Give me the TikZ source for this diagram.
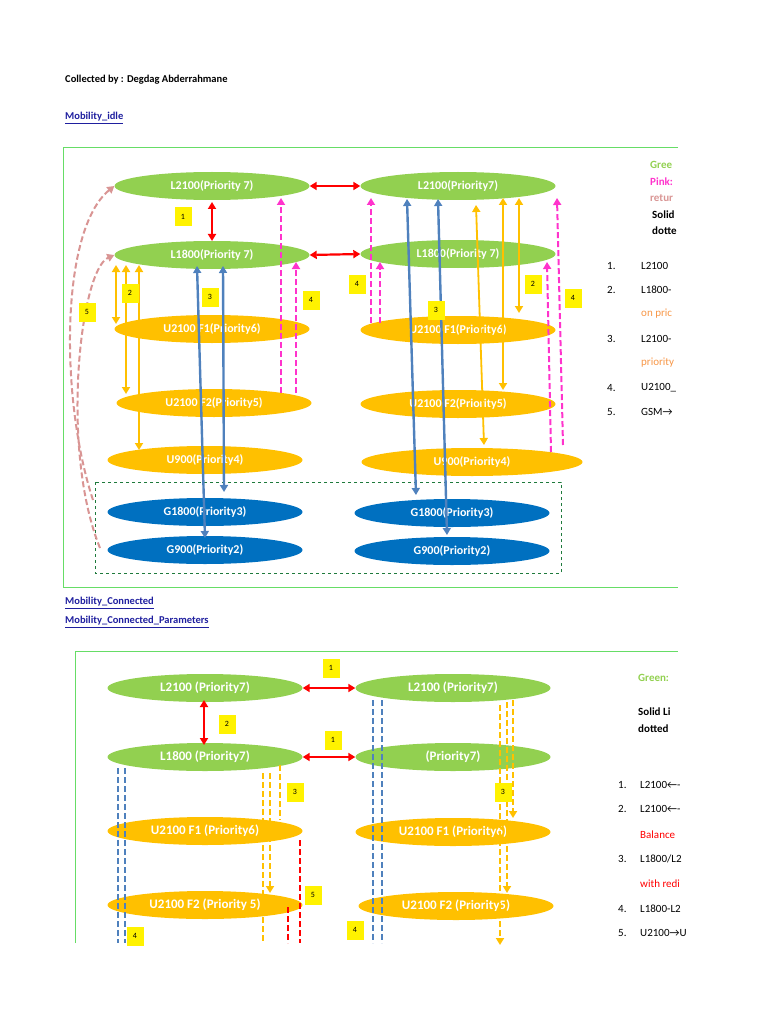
\documentclass[tikz,border=0pt]{standalone}
\usepackage{fontspec}
\setmainfont{Carlito}
\usetikzlibrary{arrows.meta,shapes.geometric}
\definecolor{eg}{HTML}{92D050}
\definecolor{eo}{HTML}{FFC000}
\definecolor{eb}{HTML}{0070C0}
\definecolor{ab}{HTML}{4F81BD}
\definecolor{pk}{HTML}{FF33CC}
\definecolor{br}{HTML}{D99594}
\definecolor{lnk}{HTML}{1F1F9F}
\definecolor{fr}{HTML}{66DD66}
\definecolor{dg}{HTML}{1E7A3C}
\definecolor{or2}{HTML}{F79646}
\tikzset{
 ell/.style={ellipse,minimum width=195pt,minimum height=28pt,inner sep=0pt,text=white,font=\bfseries\fontsize{12}{12}\selectfont},
 gE/.style={ell,fill=eg}, oE/.style={ell,fill=eo}, bE/.style={ell,fill=eb},
 tag/.style={fill=yellow,minimum width=17pt,minimum height=19pt,inner sep=0pt,font=\fontsize{8}{8}\selectfont},
 redar/.style={red,line width=2.2pt,{Triangle[length=7pt,width=8pt]}-{Triangle[length=7pt,width=8pt]}},
 orar/.style={eo,line width=1.8pt},
 blar/.style={ab,line width=2.4pt},
 pkar/.style={pk,line width=2pt,dashed,dash pattern=on 6pt off 3pt,-{Triangle[length=7pt,width=8pt]}},
 dsh/.style={line width=2pt,dash pattern=on 6pt off 3pt},
 tip/.style={-{Triangle[length=7pt,width=8pt]}},
 tips/.style={{Triangle[length=7pt,width=8pt]}-{Triangle[length=7pt,width=8pt]}},
 lbl/.style={anchor=west,inner sep=0pt,font=\fontsize{11}{11}\selectfont},
 lnkt/.style={anchor=west,inner sep=0pt,text=lnk,font=\bfseries\fontsize{10.5}{10.5}\selectfont},
}
\begin{document}
\begin{tikzpicture}[x=1pt,y=-1pt]
\useasboundingbox (0,0) rectangle (768,1024);
\node[anchor=west,inner sep=0pt,font=\bfseries\fontsize{10.5}{10.5}\selectfont] (hdr) at (65,80) {Collected by : Degdag Abderrahmane};
\node[lnkt] (mi) at (65,118) {\underline{Mobility\_idle}};
% frame
\draw[fr,line width=1pt] (678,148) -- (63,148) -- (63,587) -- (678,587);
\draw[dg,line width=1pt,dashed] (95,482) rectangle (561,573);
% left column
\node[gE] (aL21) at (212,186) {L2100(Priority 7)};
\node[gE] (aL18) at (212,255) {L1800(Priority 7)};
\node[oE] (aF1) at (212,329) {U2100 F1(Priority6)};
\node[oE] (aF2) at (214,403) {U2100 F2(Priority5)};
\node[oE] (aU9) at (205,460) {U900(Priority4)};
\node[bE] (aG18) at (205,512) {G1800(Priority3)};
\node[bE] (aG9) at (205,550) {G900(Priority2)};
% right column
\node[gE] (bL21) at (458,186) {L2100(Priority7)};
\node[gE] (bL18) at (458,254) {L1800(Priority 7)};
\node[oE] (bF1) at (458,330) {U2100 F1(Priority6)};
\node[oE] (bF2) at (458,404) {U2100 F2(Priority5)};
\node[oE,minimum width=221pt] (bU9) at (472,462) {U900(Priority4)};
\node[bE] (bG18) at (452,513) {G1800(Priority3)};
\node[bE] (bG9) at (452,551) {G900(Priority2)};
% red arrows
\draw[redar] (aL21.east) -- (bL21.west);
\draw[redar] (aL18.east) -- (bL18.west);
\draw[redar] (212,202) -- (212,241);
\node[tag] (t1) at (183,217) {1};
% left orange
\draw[orar,tips] (116,265) -- (116,324);
\draw[orar,tips] (126,265) -- (126,394);
\draw[orar,tips] (139,265) -- (139,450);
\node[tag] (t2) at (130,293) {2};
% left blue
\draw[blar,tips] (197,266) -- (205,538);
\draw[blar,tips] (223,266) -- (224,492);
\node[tag] (t3) at (210,297) {3};
% left pink
\draw[pkar] (281,393) -- (281,198);
\draw[pkar] (296,393) -- (296,262);
\node[tag] (t4) at (311,300) {4};
% brown curves
\draw[br,dsh,tip] (93,500) .. controls (60,400) and (60,230) .. (aL21.west);
\draw[br,dsh,tip] (100,548) .. controls (60,450) and (80,270) .. (aL18.west);
\node[tag] (t5) at (87,312) {5};
% right pink
\draw[pkar] (371,323) -- (371,198);
\draw[pkar] (380,323) -- (380,262);
\node[tag] (t4b) at (357,284) {4};
% right blue
\draw[blar,tips] (407,199) -- (416,495);
\draw[blar,tips] (438,199) -- (447,535);
\node[tag] (t3b) at (436,310) {3};
% right orange
\draw[orar,tips] (476,205) -- (484,445);
\draw[orar,tips] (503,198) -- (503,390);
\draw[orar,tips] (519,198) -- (519,313);
\node[tag] (t2b) at (533,284) {2};
\draw[pkar] (551,452) -- (547,262);
\draw[pkar] (563,445) -- (557,198);
\node[tag] (t4c) at (573,298) {4};
% legend top
\node[lbl,text=eg,font=\bfseries\fontsize{11}{11}\selectfont] (lg1) at (650,165) {Gree};
\node[lbl,text=pk,font=\bfseries\fontsize{11}{11}\selectfont] (lg2) at (650,182) {Pink:};
\node[lbl,text=br,font=\bfseries\fontsize{11}{11}\selectfont] (lg3) at (650,198) {retur};
\node[lbl,font=\bfseries\fontsize{11}{11}\selectfont] (lg4) at (652,215) {Solid};
\node[lbl,font=\bfseries\fontsize{11}{11}\selectfont] (lg5) at (652,231) {dotte};
\foreach \n/\y/\t in {1/266/L2100, 2/290/L1800-, 3/339/L2100-, 4/388/U2100\_, 5/412/GSM→}{
 \node[lbl] at (607,\y) {\n.};
 \node[lbl] at (641,\y) {\t};
}
\node[lbl,text=or2] (op) at (641,314) {on pric};
\node[lbl,text=or2] (pr) at (641,363) {priority};
% ===== bottom =====
\node[lnkt] (mc) at (65,603) {\underline{Mobility\_Connected}};
\node[lnkt] (mcp) at (65,622) {\underline{Mobility\_Connected\_Parameters}};
\draw[fr,line width=1pt] (75,943) -- (75,651) -- (678,651);
\tikzset{ell/.append style={font=\bfseries\fontsize{13}{13}\selectfont}}
\node[gE] (cL21) at (205,688) {L2100 (Priority7)};
\node[gE] (cL18) at (205,757) {L1800 (Priority7)};
\node[oE] (cF1) at (205,831) {U2100 F1 (Priority6)};
\node[oE] (cF2) at (205,905) {U2100 F2 (Priority 5)};
\node[gE] (dL21) at (453,688) {L2100 (Priority7)};
\node[gE] (dL18) at (453,757) {(Priority7)};
\node[oE] (dF1) at (453,832) {U2100 F1 (Priority6)};
\node[oE] (dF2) at (456,906) {U2100 F2 (Priority5)};
\draw[redar] (cL21.east) -- (dL21.west);
\draw[redar] (cL18.east) -- (dL18.west);
\node[tag] (u1) at (331,668) {1};
\node[tag] (u1b) at (333,740) {1};
\draw[redar] (204,700) -- (204,745);
\node[tag] (u2) at (227,724) {2};
\draw[ab,dsh] (118,768) -- (118,943);
\draw[ab,dsh] (125,768) -- (125,943);
\node[tag] (u4) at (135,936) {4};
\draw[eo,dsh] (263,773) -- (263,943);
\draw[eo,dsh,tip] (270,773) -- (270,893);
\draw[eo,dsh] (280,765) -- (280,820);
\node[tag] (u3) at (295,792) {3};
\draw[red,dsh] (300,840) -- (300,943);
\draw[red,dsh] (288,907) -- (288,943);
\node[tag] (u5) at (313,895) {5};
\draw[ab,dsh] (373,700) -- (373,943);
\draw[ab,dsh] (382,700) -- (382,943);
\node[tag] (u4b) at (355,930) {4};
\draw[eo,dsh,tip] (500,705) -- (500,945);
\draw[eo,dsh,tip] (507,702) -- (507,893);
\draw[eo,dsh,tip] (513,700) -- (513,818);
\node[tag] (u3b) at (503,792) {3};
\node[lbl,text=eg,font=\bfseries\fontsize{11}{11}\selectfont] (lh1) at (638,678) {Green:};
\node[lbl,font=\bfseries\fontsize{11}{11}\selectfont] (lh2) at (638,712) {Solid Li};
\node[lbl,font=\bfseries\fontsize{11}{11}\selectfont] (lh3) at (638,729) {dotted};
\foreach \n/\y/\t in {1/785/{L2100←-}, 2/809/{L2100←-}, 3/859/{L1800/L2}, 4/909/{L1800-L2}, 5/933/{U2100→U}}{
 \node[lbl] at (618,\y) {\n.};
 \node[lbl] at (640,\y) {\t};
}
\node[lbl,text=red] (bal) at (640,835) {Balance};
\node[lbl,text=red] (wr) at (640,884) {with redi};
\end{tikzpicture}
\end{document}
